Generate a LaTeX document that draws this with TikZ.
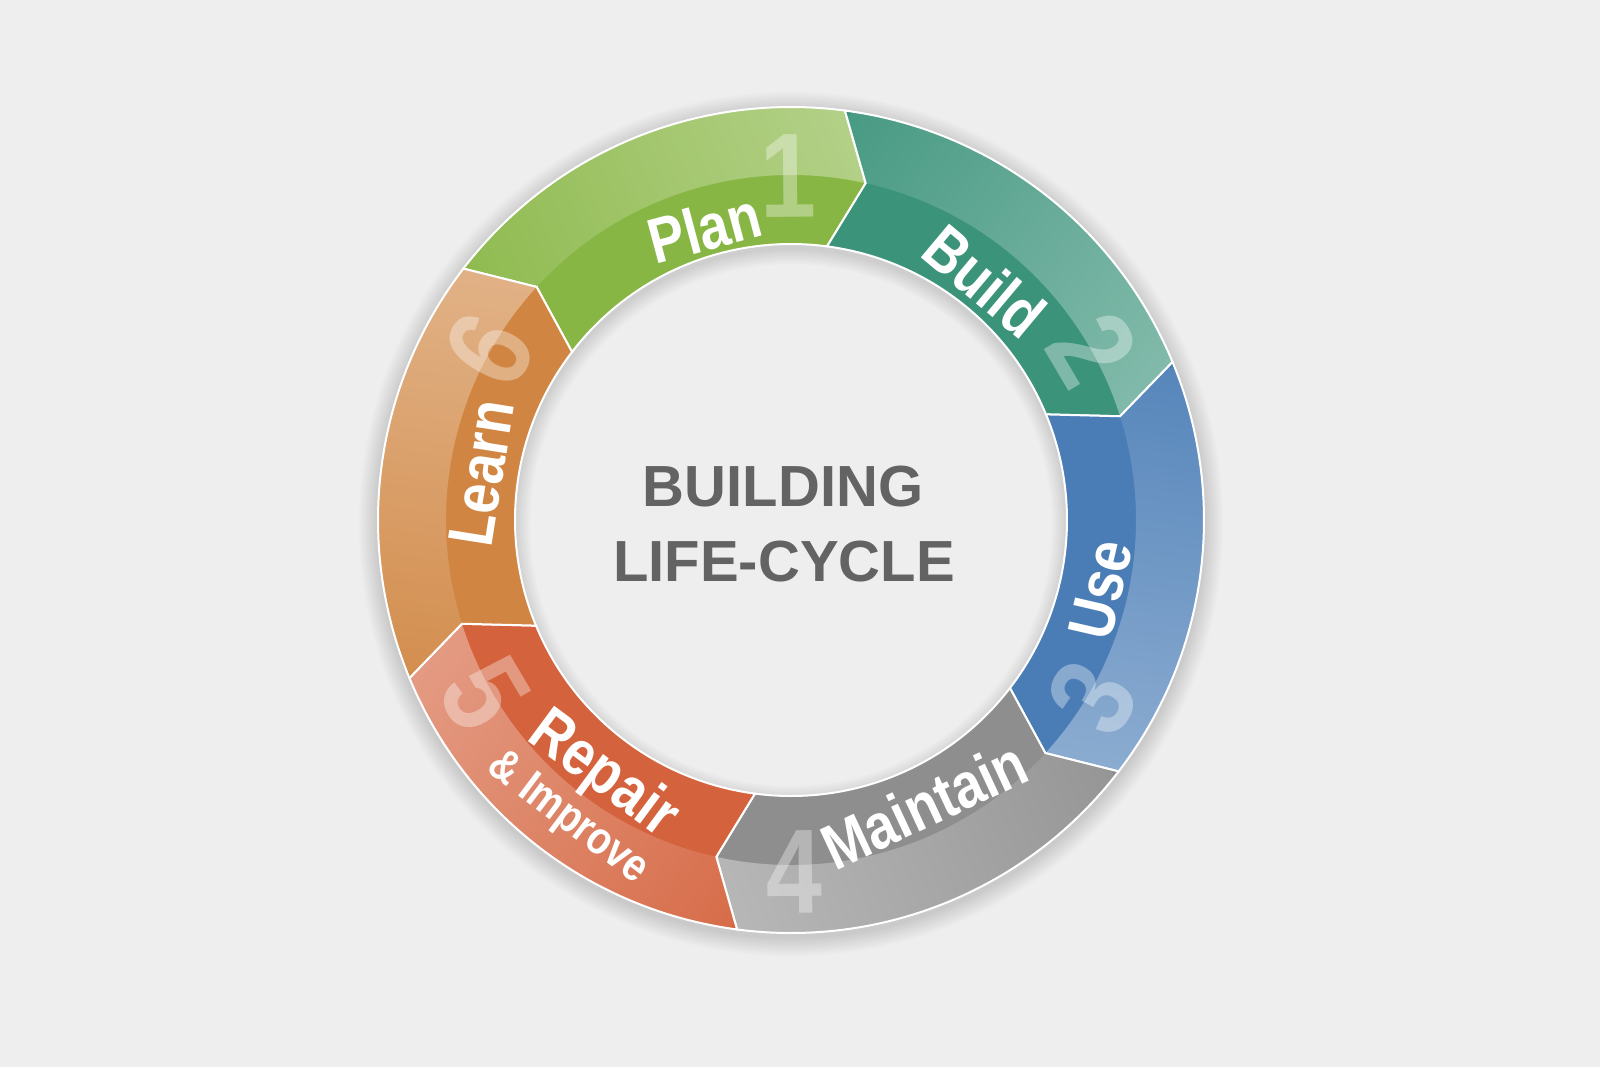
\documentclass[tikz,border=0pt]{standalone}
\usepackage{fontspec}
\setmainfont{Liberation Sans}
\newfontfamily\labfont[FakeStretch=0.84]{Liberation Sans}
\definecolor{paper}{HTML}{EEEEEE}
\definecolor{cplan}{HTML}{88B644}
\definecolor{cbuild}{HTML}{3B937A}
\definecolor{cuse}{HTML}{4A7DB6}
\definecolor{cmaint}{HTML}{8E8E8E}
\definecolor{crepair}{HTML}{D4623C}
\definecolor{clearn}{HTML}{D08642}
\definecolor{ctitle}{HTML}{636363}
\newcommand\segshape[1]{(#1:413) arc[start angle=#1, end angle=#1-60, radius=413] -- (#1-65:345) -- (#1-60:276) arc[start angle=#1-60, end angle=#1, radius=276] -- (#1-5:345) -- cycle}
\newcommand\glass[2]{%
  \begin{scope}
    \clip \segshape{#1};
    \clip (#1+2:345) arc[start angle=#1+2, end angle=#1-70, radius=345] -- (#1-70:440) arc[start angle=#1-70, end angle=#1+2, radius=440] -- cycle;
    \begin{scope}[transform canvas={rotate=#1-120}]
      \shade[left color=#2!93!white, right color=#2!55!white] (-200,230) rectangle (330,460);
    \end{scope}
  \end{scope}}
\begin{document}
\begin{tikzpicture}[x=0.5pt,y=0.5pt,
  lab/.style={text=white, font=\labfont\bfseries\fontsize{32}{32}\selectfont, inner sep=0pt, text height=23pt, text depth=0pt},
  sublab/.style={text=white, font=\labfont\bfseries\fontsize{23}{23}\selectfont, inner sep=0pt, text height=16.5pt, text depth=0pt},
  num/.style={text=white, text opacity=0.35, font=\labfont\bfseries\fontsize{60}{60}\selectfont, inner sep=0pt, text height=43pt, text depth=0pt},
  titletext/.style={text=ctitle, font=\bfseries\fontsize{29}{29}\selectfont, inner sep=0pt, text height=20.8pt, text depth=0pt},
  segline/.style={draw=white, line width=1pt}]
\useasboundingbox (-791,-547) rectangle (809,520);
\fill[paper] (-791,-547) rectangle (809,520);
% soft shadow around the ring
\foreach \k in {1,...,12} \fill[black, opacity=0.013] (0,-4) circle[radius=413+1.6*\k];
\fill[paper] (0,0) circle[radius=280];
% inner shadow on the centre disc
\foreach \k in {1,...,8} \fill[black, opacity=0.014, even odd rule] (0,0) circle[radius=277] (0,-5) circle[radius=277-2*\k];
% segments
\foreach \a/\c in {142.5/cplan, 82.5/cbuild, 22.5/cuse, -37.5/cmaint, -97.5/crepair, -157.5/clearn}{
  \fill[\c] \segshape{\a};
  \glass{\a}{\c}
  \draw[segline] \segshape{\a};
}
% numbers
\node[num, rotate=0.5] (n1) at (90.5:346) {1};
\node[num, rotate=-59.5] (n2) at (29.5:348) {2};
\node[num, rotate=60.5] (n3) at (-30.5:348) {3};
\node[num, rotate=0.5] (n4) at (-89.5:350) {4};
\node[num, rotate=-59.5] (n5) at (-150.5:350) {5};
\node[num, rotate=60.5] (n6) at (150.5:348) {6};
% labels
\node[lab, rotate=15] (plan) at (106.5:305) {Plan};
\node[lab, rotate=-40] (build) at (51:308) {Build};
\node[lab, rotate=77] (use) at (-12.7:316) {Use};
\node[lab, rotate=25] (maintain) at (-64.9:314) {Maintain};
\node[lab, rotate=-36.5] (repair) at (-126.4:311) {Repair};
\node[sublab, rotate=-37] (improve) at (-126.8:368) {\& Improve};
\node[lab, rotate=81] (learn) at (171.4:314) {Learn};
% title
\node[titletext] (t1) at (-8,34) {BUILDING};
\node[titletext] (t2) at (-7,-41) {LIFE-CYCLE};
\end{tikzpicture}
\end{document}
